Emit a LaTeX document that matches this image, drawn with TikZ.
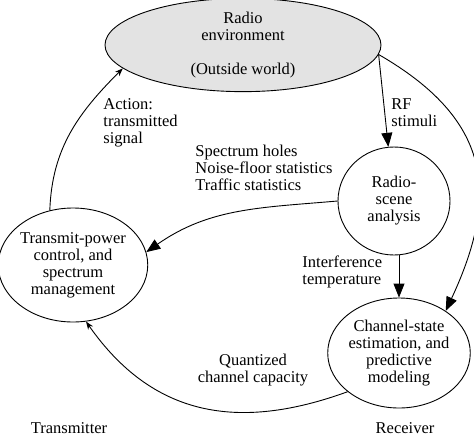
\documentclass[tikz,border=0pt]{standalone}
\usepackage{fontspec}
\setmainfont{Liberation Serif}
\usetikzlibrary{shapes.geometric,arrows.meta}
\newcommand\fs{\fontsize{16.5}{17}\selectfont}

\begin{document}
\begin{tikzpicture}[x=1pt,y=1pt,
			blob/.style={draw,ellipse,inner sep=0pt,align=center,font=\fs},
			txt/.style={inner sep=0pt,align=left,font=\fs},
			big/.style={-{Triangle[width=11pt,length=14pt]}},
			small/.style={-{Stealth[width=6pt,length=8pt]}},
			every path/.style={line width=0.9pt}
		]
		\useasboundingbox (0,0) rectangle (474,-437);

		\node [blob,fill=gray!22,minimum width=276pt,minimum height=86pt] (env) at (243,-45) {Radio\\environment\\[17pt](Outside world)};
		\node [blob,minimum width=112pt,minimum height=108pt] (scene) at (394,-201) {Radio-\\scene\\analysis};
		\node [blob,minimum width=140pt,minimum height=114pt] (tx) at (73,-265) {Transmit-power\\control, and\\spectrum\\management};
		\node [blob,minimum width=128pt,minimum height=110pt] (chan) at (399,-353) {Channel-state\\estimation, and\\predictive\\modeling};

		% labels
		\node [txt,anchor=west] (act) at (103,-123) {Action:\\transmitted\\signal};
		\node [txt,anchor=west] (rf) at (391,-113) {RF\\stimuli};
		\node [txt,anchor=west] (spec) at (195,-168) {Spectrum holes\\Noise-floor statistics\\Traffic statistics};
		\node [txt,anchor=west] (intf) at (302,-272) {Interference\\temperature};
		\node [txt,align=center] (quant) at (253,-370) {Quantized\\channel capacity};
		\node [txt] (trans) at (69,-428) {Transmitter};
		\node [txt] (recv) at (405,-428) {Receiver};

		\draw[small] (tx.113) to[out=88,in=225] (env.191);
		\draw[big] (env.-4) -- (scene.96);
		\draw[big] (env.-4) to[out=-30,in=65,looseness=1.25] (chan.42);
		\draw[big] (scene.180) to[out=185,in=35] (tx.10);
		\draw[big] (chan.north |- scene.south) -- (chan.north);
		\draw[small] (chan.217) to[out=200,in=-55,looseness=1.1] (tx.283);
	\end{tikzpicture}
\end{document}
